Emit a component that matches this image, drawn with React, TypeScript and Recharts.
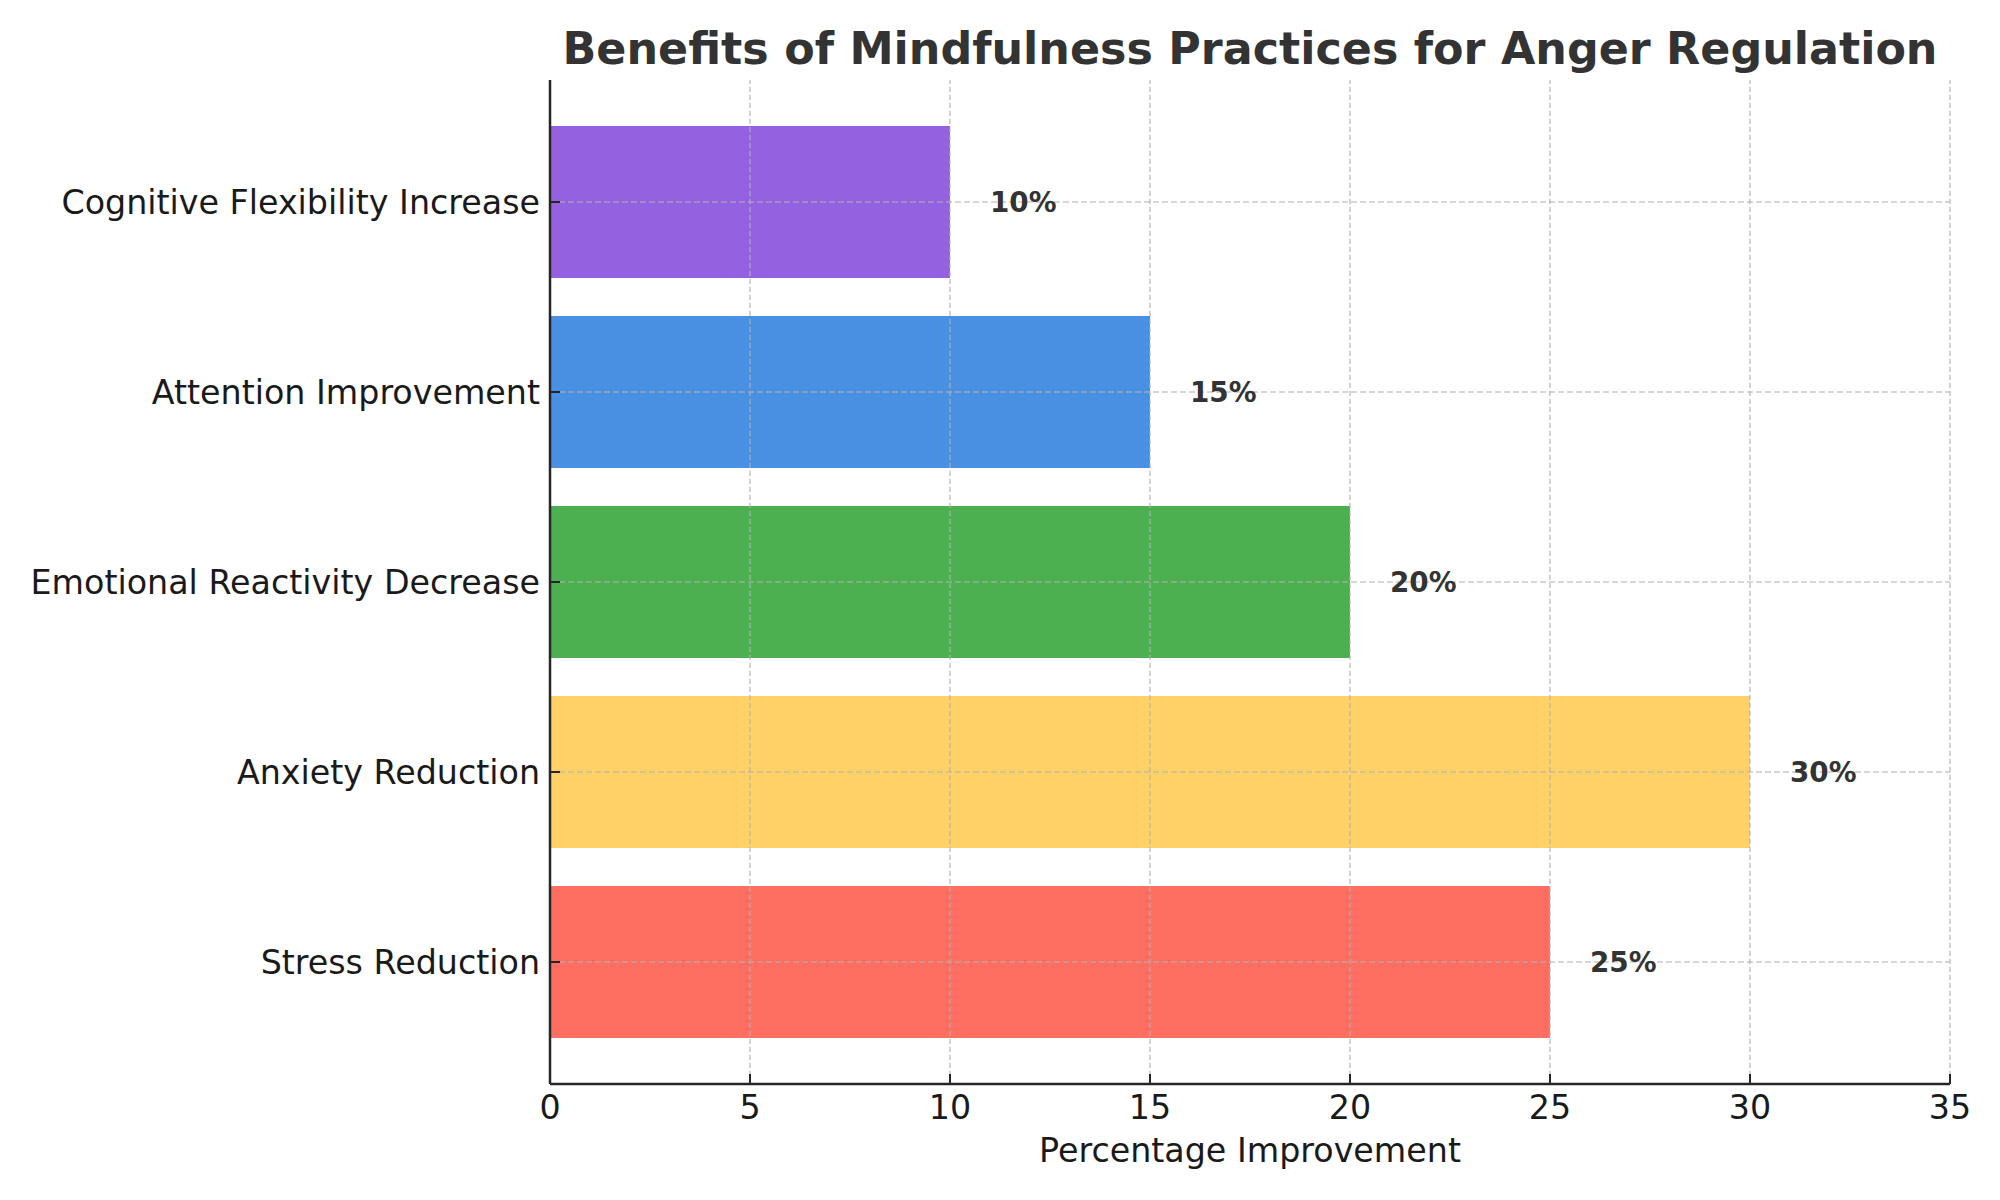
import React from "react";
import { BarChart, Bar, XAxis, YAxis, Cell, LabelList, ReferenceLine, Label } from "recharts";

// categories listed bottom to top, as in the original figure
const categories = [
  "Stress Reduction",
  "Anxiety Reduction",
  "Emotional Reactivity Decrease",
  "Attention Improvement",
  "Cognitive Flexibility Increase",
];
const improvement = [25, 30, 20, 15, 10];
const barColors = ["#FF6F61", "#FFD166", "#4CAF50", "#4A90E2", "#9461E0"];
const xTicks = [0, 5, 10, 15, 20, 25, 30, 35];

const data = categories.map((name, i) => ({ name, value: improvement[i] }));

const FONT = "DejaVu Sans";
const gridStroke = "#b0b0b0";

const XTick = ({ x, y, payload }: any) => (
  <g>
    <line x1={x} x2={x} y1={y - 11} y2={y - 21} stroke="#262626" strokeWidth={2} />
    <text x={x} y={y + 24} textAnchor="middle" fontFamily={FONT} fontSize={33.3} fill="#1a1a1a">
      {payload.value}
    </text>
  </g>
);

const YTick = ({ x, y, payload }: any) => (
  <g>
    <line x1={x + 10} x2={x + 20} y1={y} y2={y} stroke="#262626" strokeWidth={2} />
    <text x={x} y={y + 12} textAnchor="end" fontFamily={FONT} fontSize={33.3} fill="#1a1a1a">
      {payload.value}
    </text>
  </g>
);

// value label placed one unit to the right of the bar end
const ValueLabel = ({ x, y, width, height, value }: any) => {
  const unit = width / value;
  return (
    <text
      x={x + width + unit}
      y={y + height / 2 + 10}
      fontFamily={FONT}
      fontSize={27.8}
      fontWeight="bold"
      fill="#333333"
    >
      {`${value}%`}
    </text>
  );
};

export default function App() {
  return (
    <div style={{ position: "absolute", left: 0, top: 0, width: 2000, height: 1200, background: "#fff" }}>
      <svg width={2000} height={80} style={{ position: "absolute", left: 0, top: 0 }}>
        <text x={1250} y={64} textAnchor="middle" fontFamily={FONT} fontSize={44.4} fontWeight="bold" fill="#333333">
          Benefits of Mindfulness Practices for Anger Regulation
        </text>
      </svg>
      <div style={{ position: "absolute", left: 0, top: 0 }}>
        <BarChart
          width={2000}
          height={1200}
          data={data}
          layout="vertical"
          margin={{ top: 80, right: 50, left: 0, bottom: 0 }}
        >
          <XAxis
            type="number"
            domain={[0, 35]}
            ticks={xTicks}
            height={116}
            tickSize={0}
            tickMargin={11}
            tickLine={false}
            tick={<XTick />}
            axisLine={{ stroke: "#262626", strokeWidth: 2.5 }}
          >
            <Label
              value="Percentage Improvement"
              position="insideBottom"
              offset={38}
              fontFamily={FONT}
              fontSize={33.3}
              fill="#1a1a1a"
            />
          </XAxis>
          <YAxis
            type="category"
            dataKey="name"
            reversed
            width={550}
            padding={{ top: 27, bottom: 27 }}
            tickSize={0}
            tickMargin={10}
            tickLine={false}
            tick={<YTick />}
            interval={0}
            axisLine={{ stroke: "#262626", strokeWidth: 2.5 }}
          />
          <Bar dataKey="value" barSize={152} isAnimationActive={false}>
            {data.map((d, i) => (
              <Cell key={d.name} fill={barColors[i]} />
            ))}
            <LabelList dataKey="value" content={<ValueLabel />} />
          </Bar>
          {xTicks.slice(1).map((t) => (
            <ReferenceLine
              key={`vx${t}`}
              x={t}
              stroke={gridStroke}
              strokeOpacity={0.7}
              strokeWidth={1.6}
              strokeDasharray="5 3"
            />
          ))}
          {categories.map((c) => (
            <ReferenceLine
              key={`hy${c}`}
              y={c}
              stroke={gridStroke}
              strokeOpacity={0.7}
              strokeWidth={1.6}
              strokeDasharray="6 3"
            />
          ))}
        </BarChart>
      </div>
    </div>
  );
}
